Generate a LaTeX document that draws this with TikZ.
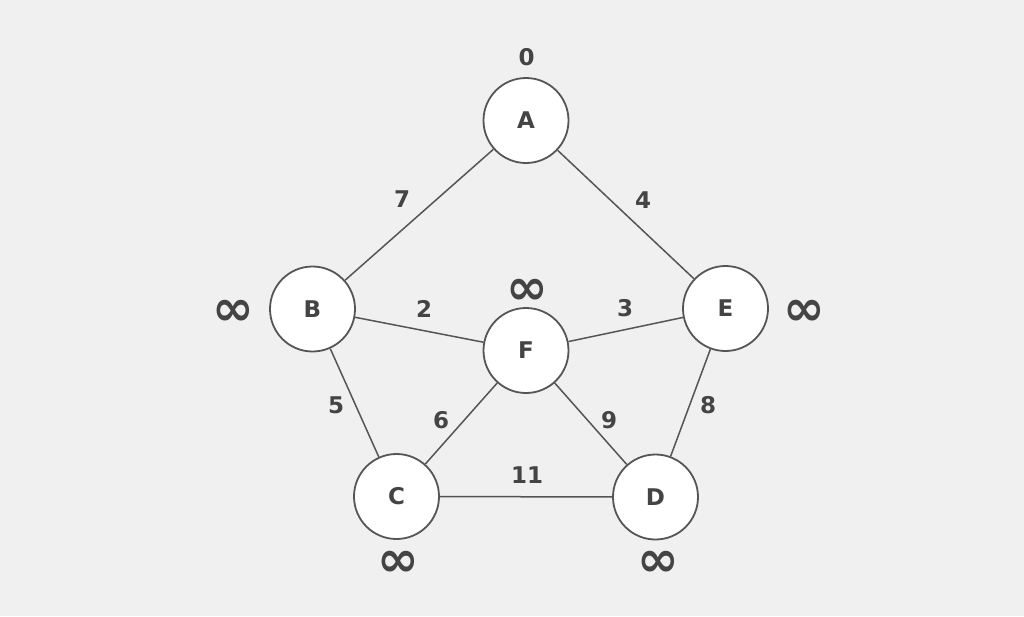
\documentclass[tikz,border=0pt]{standalone}
\usepackage{fontspec}
\setmainfont{Liberation Sans}
\newfontfamily\labfont{DejaVu Sans Bold}
\newfontfamily\inffont{DejaVu Sans Bold}
\definecolor{bg}{HTML}{F0F0F0}
\definecolor{ink}{HTML}{444444}
\definecolor{edgecol}{HTML}{555555}
\begin{document}
\begin{tikzpicture}[x=1pt,y=-1pt,
  vertex/.style={circle,draw=edgecol,line width=1.8pt,fill=white,minimum size=85pt,inner sep=0pt,text=ink,font=\labfont\fontsize{23}{27}\selectfont},
  wlabel/.style={text=ink,font=\labfont\fontsize{23}{27}\selectfont,inner sep=0pt},
  inflabel/.style={text=ink,font=\inffont\fontsize{50}{54}\selectfont,inner sep=0pt},
  edge/.style={draw=edgecol,line width=1.5pt}]
\fill[bg] (0,0) rectangle (1024,616);
\useasboundingbox (0,0) rectangle (1024,616);
\node[vertex] (A) at (526,120.5) {A};
\node[vertex] (B) at (312.5,309) {B};
\node[vertex] (E) at (725.5,308.5) {E};
\node[vertex] (F) at (526,350.5) {F};
\node[vertex] (C) at (396.5,496.5) {C};
\node[vertex] (D) at (655.5,497) {D};
\draw[edge] (A) -- (B);
\draw[edge] (A) -- (E);
\draw[edge] (B) -- (F);
\draw[edge] (F) -- (E);
\draw[edge] (B) -- (C);
\draw[edge] (E) -- (D);
\draw[edge] (F) -- (C);
\draw[edge] (F) -- (D);
\draw[edge] (C) -- (D);
\node[wlabel] (l0) at (526.5,57) {0};
\node[wlabel] (l7) at (402,199.5) {7};
\node[wlabel] (l4) at (643,200) {4};
\node[wlabel] (l2) at (424,308.5) {2};
\node[wlabel] (l3) at (625,308) {3};
\node[wlabel] (l5) at (336,405) {5};
\node[wlabel] (l6) at (441,420.5) {6};
\node[wlabel] (l9) at (609,420.5) {9};
\node[wlabel] (l8) at (708,405.5) {8};
\node[wlabel] (l11) at (527,475) {11};
\node[inflabel] (iB) at (233,313) {∞};
\node[inflabel] (iE) at (804,313) {∞};
\node[inflabel] (iF) at (527,291.5) {∞};
\node[inflabel] (iC) at (398,563.5) {∞};
\node[inflabel] (iD) at (658,563.5) {∞};
\end{tikzpicture}
\end{document}
